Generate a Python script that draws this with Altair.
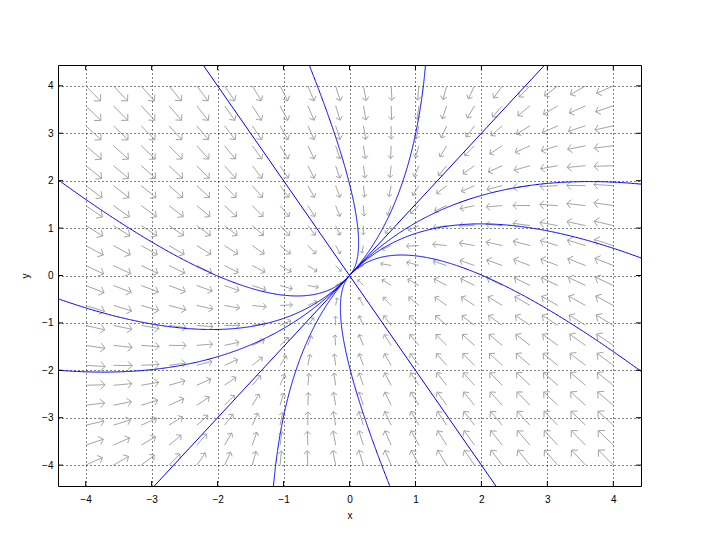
import numpy as np
import pandas as pd
import altair as alt

# ---- axes ----
x_ticks = [-4, -3, -2, -1, 0, 1, 2, 3, 4]
y_ticks = [-4, -3, -2, -1, 0, 1, 2, 3, 4]
x_domain = [-4.42, 4.42]
y_domain = [-4.44, 4.44]

# ---- linear system read from the field: eigen-directions and rates ----
fast_dir = [1.0, -2.0]
fast_rate = -2.0
slow_dir = [2.0, 3.0]
slow_rate = -1.0

# quiver grid
grid_lo, grid_hi, grid_n = -4.0, 4.0, 20

# points where each plotted trajectory leaves the box
traj_x = [4.4, 4.4, 4.4, 1.15, -0.6, -4.4, -4.4, -4.4, -1.15, 0.6]
traj_y = [1.93, 0.38, -2.0, 4.4, 4.4, -2.0, -0.5, 2.0, -4.4, -4.4]

W, H = 583, 421
sx = W / (x_domain[1] - x_domain[0])
sy = H / (y_domain[1] - y_domain[0])

V = np.array([fast_dir, slow_dir]).T
Vinv = np.linalg.inv(V)
A = V @ np.diag([fast_rate, slow_rate]) @ Vinv

# ---- arrows ----
g = np.linspace(grid_lo, grid_hi, grid_n)
gx, gy = np.meshgrid(g, g)
gx, gy = gx.ravel(), gy.ravel()
u = A[0, 0] * gx + A[0, 1] * gy
v = A[1, 0] * gx + A[1, 1] * gy
m = np.hypot(u, v)
L = 0.171 * np.cbrt(m)
dx, dy = L * u / m, L * v / m
tx, ty = gx + dx, gy + dy
px, py = dx * sx, dy * sy
segs = []
for i in range(len(gx)):
    segs.append((gx[i], gy[i], tx[i], ty[i]))
    for ang in (np.deg2rad(135), np.deg2rad(-135)):
        c, s = np.cos(ang), np.sin(ang)
        bx = (c * px[i] - s * py[i]) * 0.32
        by = (s * px[i] + c * py[i]) * 0.32
        segs.append((tx[i], ty[i], tx[i] + bx / sx, ty[i] + by / sy))
arrows = pd.DataFrame(segs, columns=["x", "y", "x2", "y2"])

# ---- trajectories ----
rows = []
cid = 0
rows.append((cid, 0, -3.0 * fast_dir[0], -3.0 * fast_dir[1]))
rows.append((cid, 1, 3.0 * fast_dir[0], 3.0 * fast_dir[1]))
cid += 1
rows.append((cid, 0, -2.5 * slow_dir[0], -2.5 * slow_dir[1]))
rows.append((cid, 1, 2.5 * slow_dir[0], 2.5 * slow_dir[1]))
cid += 1
ratio = fast_rate / slow_rate
for x0, y0 in zip(traj_x, traj_y):
    p0, q0 = Vinv @ np.array([x0, y0])
    for j, sv in enumerate(np.linspace(0, 1.4, 400)):
        p, q = p0 * sv ** ratio, q0 * sv
        pt = V @ np.array([p, q])
        rows.append((cid, j, pt[0], pt[1]))
    cid += 1
traj = pd.DataFrame(rows, columns=["cid", "ord", "x", "y"])

xs = alt.Scale(domain=x_domain, nice=False, zero=False)
ys = alt.Scale(domain=y_domain, nice=False, zero=False)
FONT = "Liberation Sans"

xaxis = alt.Axis(values=x_ticks, ticks=False, tickSize=0, domain=False,
                 grid=True, gridColor="black", gridDash=[1, 3], gridOpacity=1,
                 gridWidth=1, labelFont=FONT, labelFontSize=10, labelColor="black",
                 labelPadding=8, title="x", titleFont=FONT, titleFontSize=10,
                 titleFontWeight="normal", titleColor="black", titlePadding=6)
yaxis = alt.Axis(values=y_ticks, ticks=False, tickSize=0, domain=False,
                 grid=True, gridColor="black", gridDash=[1, 3], gridOpacity=1,
                 gridWidth=1, labelFont=FONT, labelFontSize=10, labelColor="black",
                 labelPadding=5, title="y", titleFont=FONT, titleFontSize=10,
                 titleFontWeight="normal", titleColor="black", titlePadding=11)

arrow_layer = alt.Chart(arrows).mark_rule(color="#a4a4a4", strokeWidth=1, clip=True).encode(
    x=alt.X("x:Q", scale=xs, axis=xaxis),
    y=alt.Y("y:Q", scale=ys, axis=yaxis),
    x2="x2:Q", y2="y2:Q",
)

traj_layer = alt.Chart(traj).mark_line(color="#0000ff", strokeWidth=1, clip=True).encode(
    x=alt.X("x:Q", scale=xs, axis=xaxis),
    y=alt.Y("y:Q", scale=ys, axis=yaxis),
    detail="cid:N", order="ord:Q",
)

xt = pd.DataFrame({"x": x_ticks})
yt = pd.DataFrame({"y": y_ticks})
tb = alt.Chart(xt).mark_rule(color="black").encode(
    x=alt.X("x:Q", scale=xs, axis=xaxis), y=alt.value(H), y2=alt.value(H - 5))
tt = alt.Chart(xt).mark_rule(color="black").encode(
    x=alt.X("x:Q", scale=xs, axis=xaxis), y=alt.value(0), y2=alt.value(5))
tl = alt.Chart(yt).mark_rule(color="black").encode(
    y=alt.Y("y:Q", scale=ys, axis=yaxis), x=alt.value(0), x2=alt.value(5))
tr = alt.Chart(yt).mark_rule(color="black").encode(
    y=alt.Y("y:Q", scale=ys, axis=yaxis), x=alt.value(W), x2=alt.value(W - 5))

chart = alt.layer(arrow_layer, traj_layer, tb, tt, tl, tr).properties(
    width=W, height=H,
    autosize=alt.AutoSizeParams(type="none"),
    padding={"left": 50, "top": 57, "right": 57, "bottom": 56},
    background="white",
).configure_view(stroke="black", strokeWidth=1)

chart.save("out.html", embed_options={"renderer": "svg", "actions": False})
